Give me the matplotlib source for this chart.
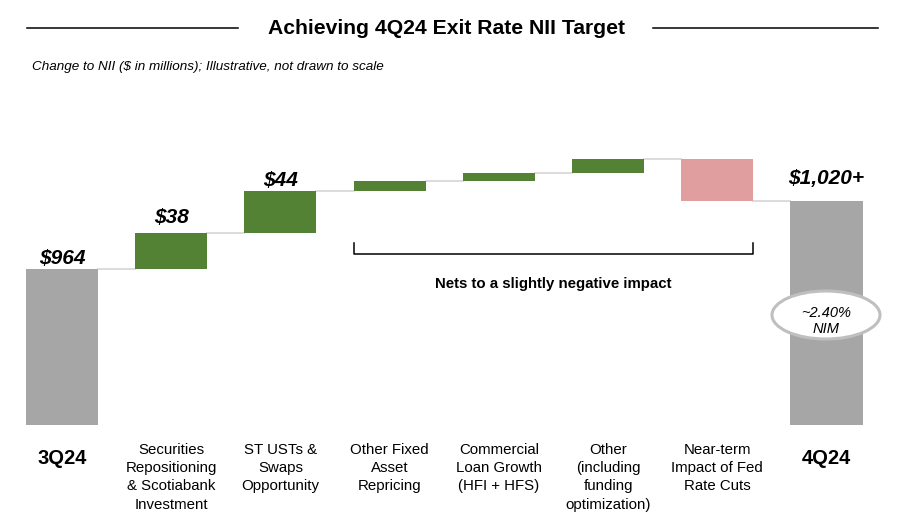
import matplotlib
matplotlib.use("Agg")
import matplotlib.pyplot as plt
from matplotlib.patches import Ellipse

plt.rcParams['font.family'] = ['Liberation Sans', 'DejaVu Sans']

# ---- data (illustrative, not drawn to scale) ----
categories = ["3Q24",
              "Securities\nRepositioning\n& Scotiabank\nInvestment",
              "ST USTs &\nSwaps\nOpportunity",
              "Other Fixed\nAsset\nRepricing",
              "Commercial\nLoan Growth\n(HFI + HFS)",
              "Other\n(including\nfunding\noptimization)",
              "Near-term\nImpact of Fed\nRate Cuts",
              "4Q24"]
start_value = 964
changes = [38, 44, 10.5, 9, 14, -43.5]   # illustrative bar heights
value_labels = ["$964", "$38", "$44", None, None, None, None, "$1,020+"]
nim_label = "~2.40%\nNIM"
title = "Achieving 4Q24 Exit Rate NII Target"
subtitle = "Change to NII ($ in millions); Illustrative, not drawn to scale"
bracket_label = "Nets to a slightly negative impact"

# ---- style ----
GRAY = "#A6A6A6"
GREEN = "#548235"
PINK = "#E09E9E"
CONN = "#D9D9D9"
BASE = 800
W = 0.66

W_PX, H_PX = 900, 523
fig = plt.figure(figsize=(9, 5.23), dpi=100)
ax = fig.add_axes([0, 0, 1, 1])
ax.set_xlim(-0.568, 7.673)
ax.set_ylim(696.8, 1247.4)
ax.axis("off")

def ypx(p):  # pixel row -> data y
    return 800 + (425 - p) / 0.95

# totals and steps
levels = [start_value]
for c in changes:
    levels.append(levels[-1] + c)
end_value = levels[-1]

ax.bar(0, start_value - BASE, bottom=BASE, width=W, color=GRAY, zorder=2)
for i, c in enumerate(changes, start=1):
    lo = levels[i - 1]
    col = GREEN if c >= 0 else PINK
    ax.bar(i, c, bottom=lo, width=W, color=col, zorder=2)
ax.bar(7, end_value - BASE, bottom=BASE, width=W, color=GRAY, zorder=2)

# connectors
for i in range(7):
    lvl = levels[i] if i < 6 else levels[6]
    ax.plot([i + W / 2, i + 1 - W / 2], [lvl, lvl], color=CONN, lw=1.3, zorder=1)

# value labels
tops = [start_value, levels[1], levels[2], None, None, None, None, end_value]
offs = [4, 7, 4, 0, 0, 0, 0, 12]
for i, lab in enumerate(value_labels):
    if lab:
        ax.annotate(lab, (i, tops[i]), xytext=(0, offs[i]), textcoords="offset points",
                    ha="center", va="baseline", fontsize=15, fontweight="bold",
                    fontstyle="italic")

# category labels
for i, cat in enumerate(categories):
    x = ax.transData.transform((i, 0))[0] / W_PX
    if i in (0, 7):
        fig.text(x, 1 - 458 / H_PX, cat, ha="center", va="center",
                 fontsize=14.5, fontweight="bold")
    else:
        fig.text(x, 1 - 443 / H_PX, cat, ha="center", va="top",
                 fontsize=10.8, linespacing=1.38)

# title and lines
fig.text(446 / W_PX, 1 - 29 / H_PX, title, ha="center", va="center",
         fontsize=15.2, fontweight="bold")
fig.add_artist(plt.Line2D([27 / W_PX, 238 / W_PX], [1 - 28 / H_PX] * 2, color="black", lw=1.1))
fig.add_artist(plt.Line2D([653 / W_PX, 878 / W_PX], [1 - 28 / H_PX] * 2, color="black", lw=1.1))
fig.text(32 / W_PX, 1 - 67 / H_PX, subtitle, ha="left", va="center",
         fontsize=9.7, fontstyle="italic")

# bracket
bl, br = 3 - W / 2, 6 + W / 2
yb, yt = ypx(254), ypx(243)
ax.plot([bl, bl, br, br], [yt, yb, yb, yt], color="black", lw=1.1, zorder=3)
ax.text((bl + br) / 2, ypx(284), bracket_label, ha="center", va="center",
        fontsize=10.8, fontweight="bold")

# NIM ellipse (pixel-sized)
cx, cy = 826, 315
ell = Ellipse((cx / W_PX, 1 - cy / H_PX), 108 / W_PX, 48 / H_PX,
              transform=fig.transFigure, facecolor="white", edgecolor="#BFBFBF",
              lw=2.2, zorder=5)
fig.add_artist(ell)
fig.text(cx / W_PX, 1 - 321 / H_PX, nim_label, ha="center", va="center",
         fontsize=10.5, fontstyle="italic", linespacing=1.25, zorder=6)

fig.savefig("out.png", dpi=100)
